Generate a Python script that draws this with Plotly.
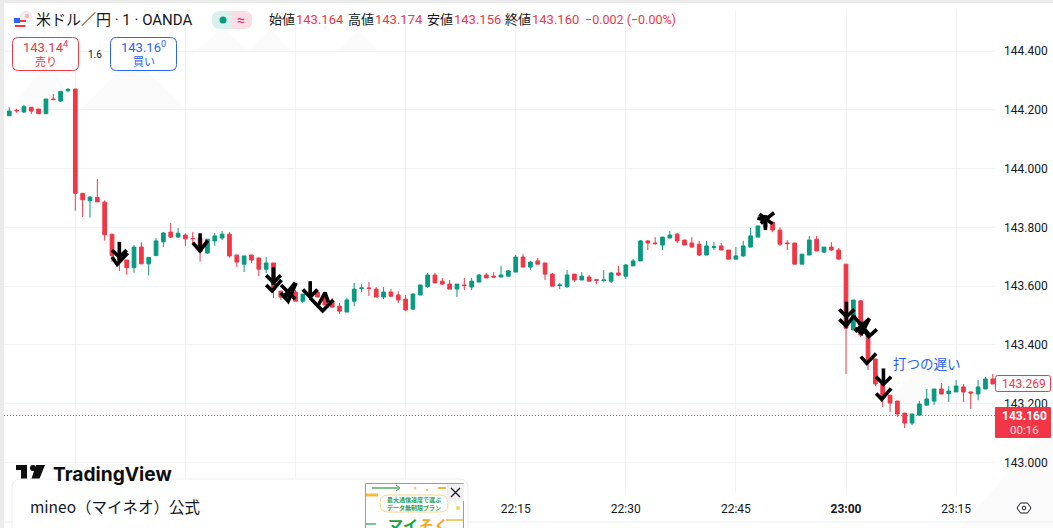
import plotly.graph_objects as go

W, H = 1053, 528
UP = "#089981"
DOWN = "#f23645"
BLUE = "#2962ff"
GRID = "#f2f3f5"
FONT = "Roboto, 'Noto Sans CJK JP', sans-serif"

# minutes since 21:06, one candle per minute
opens = [
    144.180,144.199,144.193,144.209,144.203,144.187,144.237,144.230,144.265,144.271,
    143.916,143.891,143.902,143.886,143.777,143.704,143.689,143.663,143.733,143.676,
    143.704,143.751,143.784,143.767,143.774,143.763,143.764,143.713,143.754,143.764,
    143.777,143.706,143.675,143.706,143.696,143.658,143.679,143.583,143.580,143.580,
    143.549,143.566,143.580,143.566,143.549,143.532,143.512,143.549,143.592,143.594,
    143.590,143.563,143.580,143.570,143.556,143.522,143.570,143.599,143.638,143.617,
    143.607,143.590,143.604,143.597,143.614,143.638,143.634,143.631,143.634,143.648,
    143.699,143.665,143.686,143.679,143.641,143.602,143.599,143.641,143.621,143.631,
    143.622,143.619,143.617,143.645,143.634,143.669,143.686,143.754,143.747,143.740,
    143.764,143.777,143.757,143.747,143.743,143.706,143.732,143.737,143.723,143.692,
    143.703,143.733,143.767,143.801,143.818,143.791,143.747,143.747,143.675,143.706,
    143.760,143.716,143.733,143.723,143.675,143.451,143.550,143.437,143.352,143.267,
    143.229,143.209,143.168,143.134,143.161,143.195,143.209,143.250,143.234,143.240,
    143.257,143.240,143.233,143.250,143.284,
]
highs = [
    144.209,144.204,144.217,144.209,144.203,144.237,144.254,144.263,144.274,144.271,
    143.916,143.907,143.965,143.892,143.777,143.704,143.689,143.740,143.750,143.698,
    143.764,143.784,143.815,143.798,143.780,143.784,143.764,143.760,143.781,143.788,
    143.784,143.706,143.703,143.706,143.696,143.699,143.679,143.583,143.580,143.587,
    143.573,143.587,143.587,143.576,143.560,143.543,143.560,143.611,143.607,143.614,
    143.597,143.597,143.590,143.583,143.570,143.577,143.604,143.645,143.645,143.628,
    143.621,143.607,143.628,143.628,143.641,143.645,143.648,143.669,143.655,143.706,
    143.709,143.686,143.696,143.679,143.645,143.611,143.655,143.641,143.648,143.638,
    143.624,143.655,143.648,143.669,143.675,143.692,143.757,143.757,143.767,143.767,
    143.788,143.781,143.757,143.767,143.754,143.754,143.750,143.747,143.723,143.733,
    143.754,143.798,143.805,143.818,143.818,143.801,143.757,143.747,143.709,143.771,
    143.771,143.733,143.750,143.730,143.675,143.553,143.553,143.437,143.352,143.267,
    143.229,143.209,143.168,143.165,143.209,143.250,143.250,143.270,143.260,143.281,
    143.267,143.240,143.281,143.291,143.301,
]
lows = [
    144.180,144.190,144.190,144.186,144.187,144.187,144.235,144.227,144.260,143.857,
    143.836,143.833,143.887,143.755,143.682,143.652,143.639,143.646,143.676,143.636,
    143.704,143.734,143.764,143.764,143.737,143.747,143.683,143.710,143.737,143.757,
    143.697,143.665,143.648,143.679,143.634,143.645,143.560,143.553,143.549,143.549,
    143.543,143.566,143.563,143.536,143.526,143.505,143.512,143.532,143.580,143.566,
    143.563,143.556,143.563,143.543,143.515,143.519,143.570,143.594,143.611,143.604,
    143.590,143.563,143.587,143.587,143.614,143.628,143.628,143.631,143.634,143.648,
    143.665,143.655,143.675,143.621,143.600,143.590,143.594,143.614,143.621,143.617,
    143.607,143.615,143.611,143.634,143.624,143.669,143.686,143.723,143.740,143.723,
    143.764,143.747,143.740,143.733,143.703,143.706,143.723,143.723,143.692,143.692,
    143.699,143.733,143.767,143.801,143.784,143.737,143.723,143.675,143.675,143.706,
    143.720,143.713,143.720,143.692,143.301,143.451,143.427,143.315,143.260,143.189,
    143.172,143.155,143.117,143.127,143.161,143.195,143.195,143.233,143.206,143.240,
    143.206,143.182,143.212,143.250,143.267,
]
closes = [
    144.196,144.197,144.211,144.196,144.187,144.237,144.235,144.263,144.270,143.916,
    143.894,143.903,143.887,143.775,143.704,143.682,143.663,143.733,143.676,143.698,
    143.754,143.781,143.767,143.780,143.761,143.762,143.717,143.760,143.771,143.777,
    143.703,143.682,143.703,143.689,143.658,143.679,143.587,143.563,143.553,143.549,
    143.573,143.580,143.563,143.536,143.529,143.515,143.553,143.590,143.594,143.592,
    143.563,143.580,143.566,143.553,143.519,143.573,143.604,143.638,143.611,143.607,
    143.590,143.607,143.602,143.617,143.638,143.628,143.631,143.638,143.652,143.699,
    143.665,143.682,143.675,143.641,143.600,143.604,143.638,143.621,143.634,143.617,
    143.620,143.621,143.645,143.638,143.672,143.686,143.754,143.747,143.745,143.767,
    143.774,143.754,143.740,143.733,143.706,143.737,143.734,143.723,143.692,143.703,
    143.737,143.771,143.805,143.818,143.791,143.743,143.745,143.675,143.709,143.757,
    143.720,143.733,143.723,143.692,143.457,143.553,143.434,143.349,143.267,143.223,
    143.202,143.165,143.134,143.165,143.199,143.216,143.250,143.233,143.243,143.260,
    143.240,143.236,143.257,143.284,143.267,
]
minutes = list(range(len(opens)))

# the first four labels sit behind the ad card, only their grid lines show
time_ticks = [9, 24, 39, 54, 69, 84, 99, 114, 129]
time_labels = ["", "", "", "", "22:15", "22:30", "22:45", "<b>23:00</b>", "23:15"]
price_ticks = [143.0, 143.2, 143.4, 143.6, 143.8, 144.0, 144.2, 144.4]

last_price = 143.160
line_tag_price = 143.269

# hand drawn arrows and ticks on the chart, (minute, price)
strokes = [
    [(15, 143.751), (15, 143.689)],
    [(14, 143.723), (15, 143.699), (16, 143.723)],
    [(14, 143.699), (14.7, 143.674), (16.14, 143.713)],
    [(26, 143.780), (26, 143.723)],
    [(25, 143.748), (26, 143.720), (27.04, 143.755)],
    [(36, 143.664), (36, 143.604)],
    [(35, 143.637), (36, 143.612), (37, 143.637)],
    [(35, 143.604), (35.8, 143.584), (37.1, 143.621)],
    [(37.03, 143.604), (38.94, 143.556)],
    [(38.94, 143.611), (37.3, 143.560)],
    [(37.0, 143.577), (38, 143.549), (39.07, 143.611)],
    [(37.4, 143.570), (38.7, 143.570)],
    [(41, 143.617), (41, 143.560)],
    [(40, 143.589), (41, 143.563), (42, 143.589)],
    [(41, 143.560), (42.7, 143.516), (44.15, 143.553)],
    [(42.1, 143.535), (43.02, 143.578), (43.5, 143.545)],
    [(102.2, 143.845), (104, 143.812)],
    [(101.93, 143.832), (103.3, 143.822)],
    [(104.2, 143.850), (102.39, 143.814)],
    [(103.02, 143.842), (103.02, 143.791)],
    [(114.06, 143.547), (114.06, 143.468)],
    [(113.1, 143.521), (114.06, 143.496), (115.15, 143.521)],
    [(113.1, 143.487), (114.02, 143.464), (115.15, 143.502)],
    [(115.01, 143.499), (117.19, 143.434)],
    [(117.19, 143.490), (115.24, 143.445)],
    [(115.24, 143.457), (116.15, 143.439), (117.19, 143.490)],
    [(116.15, 143.479), (116.15, 143.439)],
    [(116.24, 143.456), (117.11, 143.428), (118.2, 143.453)],
    [(116.02, 143.360), (116.83, 143.337), (118.1, 143.371)],
    [(119.1, 143.320), (119.1, 143.263)],
    [(118.1, 143.292), (119.1, 143.266), (120.15, 143.292)],
    [(118.1, 143.235), (118.88, 143.215), (120.15, 143.252)],
]


def px(x):
    return x / W


def py(y):
    return 1 - y / H


def rrect(x0, y0, x1, y1, r):
    pts = [
        f"M{px(x0 + r)},{py(y0)}", f"L{px(x1 - r)},{py(y0)}", f"Q{px(x1)},{py(y0)} {px(x1)},{py(y0 + r)}",
        f"L{px(x1)},{py(y1 - r)}", f"Q{px(x1)},{py(y1)} {px(x1 - r)},{py(y1)}",
        f"L{px(x0 + r)},{py(y1)}", f"Q{px(x0)},{py(y1)} {px(x0)},{py(y1 - r)}",
        f"L{px(x0)},{py(y0 + r)}", f"Q{px(x0)},{py(y0)} {px(x0 + r)},{py(y0)}Z",
    ]
    return " ".join(pts)


def poly(points):
    return "M" + " L".join(f"{px(x)},{py(y)}" for x, y in points) + " Z"


shapes = []


def add_path(path, fill="rgba(0,0,0,0)", line=None, lw=1, layer="above"):
    shapes.append(dict(type="path", xref="paper", yref="paper", path=path, fillcolor=fill,
                       line=dict(color=line or "rgba(0,0,0,0)", width=lw if line else 0), layer=layer))


def add_rect(x0, y0, x1, y1, fill, layer="above"):
    shapes.append(dict(type="rect", xref="paper", yref="paper", x0=px(x0), x1=px(x1), y0=py(y0), y1=py(y1),
                       fillcolor=fill, line=dict(width=0), layer=layer))


def add_line(x0, y0, x1, y1, color, lw=1, layer="above"):
    shapes.append(dict(type="line", xref="paper", yref="paper", x0=px(x0), x1=px(x1), y0=py(y0), y1=py(y1),
                       line=dict(color=color, width=lw), layer=layer))


def add_circle(cx, cy, r, fill, line=None):
    shapes.append(dict(type="circle", xref="paper", yref="paper", x0=px(cx - r), x1=px(cx + r), y0=py(cy - r),
                       y1=py(cy + r), fillcolor=fill, line=dict(color=line or fill, width=1 if line else 0),
                       layer="above"))


annotations = []


def txt(x, y, text, size=13, color="#131722", anchor="left", family=FONT):
    annotations.append(dict(xref="paper", yref="paper", x=px(x), y=py(y), text=text, showarrow=False,
                            xanchor=anchor, yanchor="middle", borderpad=0,
                            font=dict(size=size, color=color, family=family)))


# faint watermark behind the candles
WM = "#fbfbfb"
for tri in [
    [(80, 110), (133, 57), (187, 110)],
    [(197, 50), (223, 28), (247, 50)],
    [(250, 50), (270, 28), (290, 50)],
    [(10, 110), (48, 60), (75, 110)],
    [(340, 50), (358, 30), (378, 50)],
    [(885, 404), (925, 362), (985, 404)],
]:
    add_path(poly(tri), fill=WM, layer="below")
add_path(poly([(960, 528), (1053, 420), (1053, 528)]), fill=WM, layer="below")

# page strips
add_rect(0, 0, W, 3, "#ebebeb")
add_rect(0, 0, 4, H, "#ebebeb")
add_line(0, 522, W, 522, "#eceef1")

# flag
add_circle(26, 17, 5.5, "#fdf0f1", "#dfe7f3")
add_circle(27, 16, 2.2, "#f7b5bb")
add_circle(20, 23, 6.5, "#f7f7f7")
add_rect(15, 20, 26, 22, "#f23645")
add_rect(15, 25, 25.5, 27, "#f23645")
add_rect(14, 18, 20, 23, "#2962ff")

# header
txt(35, 20, "米ドル／円 · 1 · OANDA", 15)
add_path(rrect(212, 11, 233, 29, 8), fill="#d9f0ec")
add_path(rrect(231, 11, 252, 29, 8), fill="#fbdde6")
add_rect(222, 11, 232, 29, "#d9f0ec")
add_rect(232, 11, 242, 29, "#fbdde6")
add_circle(223, 20, 3.5, UP)
txt(241, 20, "≈", 14, "#e91e63", "center")
for x_name, name, x_val, val in [
    (268, "始値", 295, "143.164"),
    (347, "高値", 374, "143.174"),
    (426, "安値", 453, "143.156"),
    (504, "終値", 531, "143.160"),
]:
    txt(x_name, 20, name, 13)
    txt(x_val, 20, val, 13, DOWN)
txt(584, 20, "−0.002 (−0.00%)", 12.5, DOWN)

# sell / buy boxes
add_path(rrect(12.5, 37.5, 78.5, 70.5, 6), fill="white", line=DOWN)
add_path(rrect(110.5, 37.5, 176.5, 70.5, 6), fill="white", line=BLUE)
txt(45.5, 47, "143.14<sup>4</sup>", 13, DOWN, "center")
txt(45.5, 62, "売り", 11, DOWN, "center")
txt(143.5, 47, "143.16<sup>0</sup>", 13, BLUE, "center")
txt(143.5, 62, "買い", 11, BLUE, "center")
txt(94.5, 55, "1.6", 10, "#131722", "center")

txt(892, 364, "打つの遅い", 13.5, BLUE)

# price tags
add_path(rrect(995.5, 375.5, 1050.5, 391.5, 2), fill="white", line=DOWN)
txt(1024, 383.5, f"{line_tag_price:.3f}", 12, DOWN, "center")
add_path(rrect(995, 407, 1051, 438, 1), fill=DOWN)
txt(1024, 416, f"<b>{last_price:.3f}</b>", 12, "white", "center")
txt(1024, 430, "00:16", 11.5, "#fde3e5", "center")

# settings hexagon
add_path(poly([(1017, 508), (1020.5, 503), (1027.5, 503), (1031, 508), (1027.5, 513), (1020.5, 513)]),
         line="#131722")
add_circle(1024, 508, 1.8, "white", "#131722")

# logo, sits under the card
add_rect(16, 465, 27, 470, "#0f0f0f")
add_rect(21, 465, 27, 480, "#0f0f0f")
add_circle(33, 468, 3, "#0f0f0f")
add_path(poly([(36, 465), (45, 465), (39, 480), (31, 480)]), fill="#0f0f0f")
txt(52, 474, "<b>TradingView</b>", 19.2, "#0f0f0f", family="Inter, Roboto, sans-serif")

# ad card
add_path(rrect(12, 479, 468, 560, 9), fill="white", line="#eeeeee")
txt(29, 506, "mineo（マイネオ）公式", 15.5, "#131722", family="'Noto Sans CJK JP', sans-serif")
add_rect(365, 483, 464, 528, "white")
add_path(poly([(365.5, 483.5), (463.5, 483.5), (463.5, 530), (365.5, 530)]), line="#63c074")
add_line(372, 488, 399, 488, "#4fb366", 1.5)
add_line(400, 488, 396, 485, "#4fb366", 1)
add_line(400, 488, 396, 491, "#4fb366", 1)
add_line(365, 524, 376, 524, "#4fb366", 1.5)
add_line(438, 488, 446, 488, "#f6b93b", 2)
add_line(366, 495, 378, 495, "#f6b93b", 3)
add_line(446, 520, 463, 520, "#f6b93b", 1.5)
add_circle(415, 488, 1.5, "#f7c9a8")
add_circle(427, 490, 1, "#f6b93b")
add_circle(458, 508, 2, "#f6d25c")
add_path(rrect(380, 495, 448, 512, 8), fill="white", line="#f5d48a")
txt(414, 499.5, "<b>最大通信速度で選ぶ</b>", 6, "#2f9e4f", "center", "'Noto Sans CJK JP', sans-serif")
txt(414, 507, "<b>データ無制限プラン</b>", 6, "#2f9e4f", "center", "'Noto Sans CJK JP', sans-serif")
txt(387, 524, "<b>マイ</b>", 15, "#18a33f", "left", "'Noto Sans CJK JP', sans-serif")
txt(418, 524, "<b>そく</b>", 15, "#f6a91b", "left", "'Noto Sans CJK JP', sans-serif")
add_rect(447, 484, 464, 501, "#f0f0f0")
add_line(451, 488, 460, 497, "#131722", 1.3)
add_line(460, 488, 451, 497, "#131722", 1.3)

stroke_x, stroke_y = [], []
for s in strokes:
    stroke_x += [p[0] for p in s] + [None]
    stroke_y += [p[1] for p in s] + [None]

fig = go.Figure()
fig.add_trace(go.Candlestick(
    x=minutes, open=opens, high=highs, low=lows, close=closes,
    increasing=dict(line=dict(color=UP, width=1), fillcolor=UP),
    decreasing=dict(line=dict(color=DOWN, width=1), fillcolor=DOWN),
    whiskerwidth=0, showlegend=False,
))
fig.add_trace(go.Scatter(x=stroke_x, y=stroke_y, mode="lines", showlegend=False, hoverinfo="skip",
                         line=dict(color="black", width=3.6)))
fig.add_hline(y=last_price, line=dict(color=DOWN, width=1, dash="1px,2px"))

fig.update_layout(
    width=W, height=H, autosize=False, margin=dict(l=0, r=0, t=0, b=0),
    paper_bgcolor="white", plot_bgcolor="white", boxgap=0.28,
    font=dict(family=FONT, color="#131722", size=12),
    annotations=annotations,
    xaxis=dict(domain=[4 / W, 995 / W], range=[-0.715, 134.3], rangeslider=dict(visible=False),
               tickmode="array", tickvals=time_ticks, ticktext=time_labels, ticks="", ticklabelstandoff=7,
               showgrid=True, gridcolor=GRID, gridwidth=1, zeroline=False, showline=False,
               tickfont=dict(size=12)),
    yaxis=dict(domain=[1 - 493 / H, 1 - 10 / H], range=[142.896, 144.540], side="right",
               tickmode="array", tickvals=price_ticks, tickformat=".3f", ticks="", ticklabelstandoff=8,
               showgrid=True, gridcolor=GRID, gridwidth=1, zeroline=False, showline=False,
               tickfont=dict(size=12)),
)
# add_hline already put one shape in, keep it with the rest
fig.layout.shapes = list(fig.layout.shapes) + shapes

fig.write_html("out.html", config=dict(displayModeBar=False),
               post_script="document.body.style.margin='0';document.body.style.overflow='hidden';")
